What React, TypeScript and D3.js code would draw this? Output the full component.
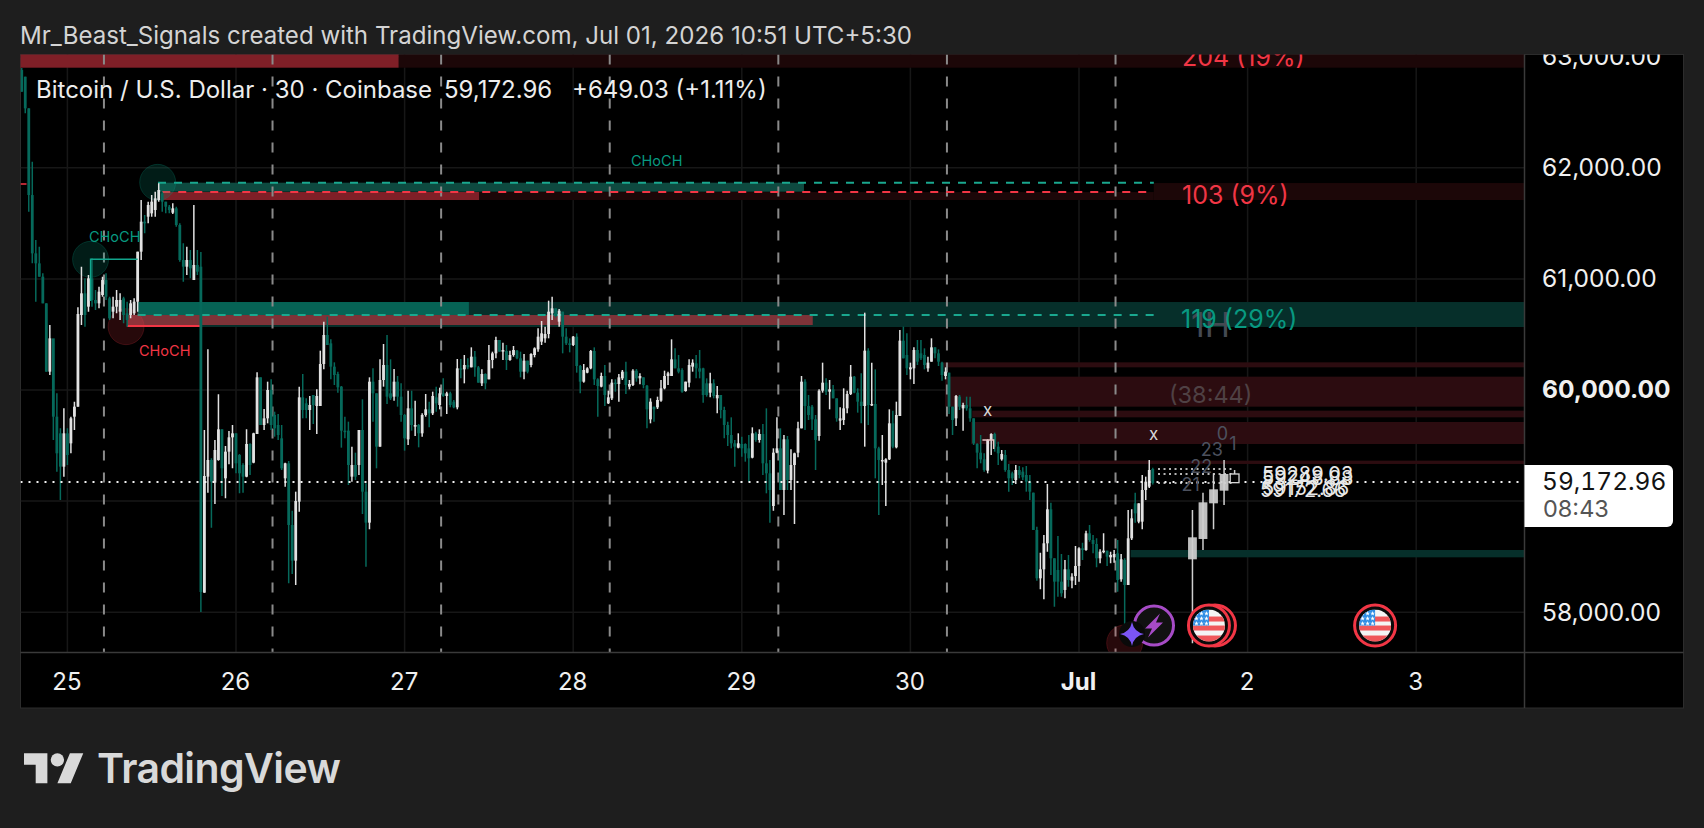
import React, { useEffect, useRef } from 'react';
import * as d3 from 'd3';

type Bar = [number, number, number, number]; // open, high, low, close

const barsJun24: Bar[] = [
  [62880,62898,62685,62685],[62820,62820,62490,62535],[62535,62535,61605,61755],[61755,62055,61140,61230],
  [61230,61350,60795,61140],[61140,61290,61020,61020],[61020,61050,60780,60780],[60780,60780,60165,60165],
  [60165,60585,60135,60465],[60465,60435,59550,59760],[59760,59970,59265,59430],[59610,59655,59010,59310],
  [59310,59835,59220,59610],
];
const barsJun25: Bar[] = [
  [59610,59655,59325,59415],[59520,59760,59430,59745],[59760,59895,59640,59850],[59850,60744,59850,60684],
  [60675,61110,60585,60870],[60870,61005,60570,60675],[60750,61035,60705,61005],[61005,61185,60750,60810],
  [60810,60900,60720,60780],[60780,60930,60735,60885],[60855,61020,60840,60990],[60990,61050,60810,60840],
  [60825,60840,60630,60645],[60705,60840,60645,60750],[60750,60900,60690,60810],[60705,60870,60630,60810],
  [60825,60840,60600,60675],[60690,60795,60570,60630],[60675,60810,60645,60780],[60690,60825,60675,60795],
  [60795,61245,60705,61245],[61245,61710,61170,61515],[61515,61575,61410,61500],[61560,61695,61500,61665],
  [61590,61755,61560,61695],[61620,61785,61560,61725],[61710,61860,61695,61800],[61770,61785,61605,61695],
  [61695,61695,61590,61650],[61650,61665,61590,61620],[61596,61680,61584,61635],[61635,61650,61470,61485],
  [61485,61500,61155,61170],[61170,61320,60975,61110],[61110,61290,61035,61170],[61170,61260,61005,61095],
  [60990,61665,60990,61125],[61125,61260,61035,61065],[61110,61242,58002,58182],[58176,59640,58176,59226],
  [59220,60366,59076,59370],[59370,59385,58761,59175],[59166,59550,58974,59460],[59370,59961,59364,59646],
  [59646,59646,59046,59295],[59205,59496,59025,59445],[59445,59631,59331,59574],[59574,59685,59295,59610],
];
const barsJun26: Bar[] = [
  [59610,59610,59250,59340],[59415,59424,59070,59250],[59325,59340,59076,59220],[59220,59646,59214,59514],
  [59514,59520,59235,59325],[59346,59616,59340,59610],[59604,60159,59604,60114],[60114,60114,59685,59685],
  [59685,59829,59640,59745],[59745,60075,59700,60000],[60000,60096,59640,59685],[59775,59805,59580,59655],
  [59685,59784,59550,59595],[59565,59685,59280,59295],[59205,59346,59130,59340],[59340,59361,58260,58785],
  [58785,58914,58344,58464],[58464,59085,58245,59001],[58995,60030,58905,59934],[59934,60144,59745,59820],
  [59880,59925,59745,59820],[59820,59946,59640,59865],[59955,59955,59694,59865],[59856,60006,59604,59946],
  [59856,60354,59856,60234],[60234,60615,60186,60495],[60495,60660,60405,60405],[60420,60456,60096,60210],
  [60210,60249,60045,60135],[60144,60165,59976,60024],[60030,60036,59481,59634],[59634,59760,59565,59625],
  [59634,59715,59145,59325],[59220,59490,59175,59325],[59325,59436,59190,59220],[59325,59640,59235,59640],
  [59640,59916,58884,59085],[59085,59160,58410,58806],[58806,60114,58746,60075],[60075,60195,59715,59970],
  [59970,59970,59295,59490],[59490,60276,59490,60090],[60090,60414,60030,60225],[60225,60495,59874,59940],
  [59970,60276,59910,59925],[59940,60189,59904,60075],[60075,60126,59850,59940],[59940,60060,59715,59775],
];
const barsJun27: Bar[] = [
  [59775,59784,59454,59565],[59556,59994,59505,59835],[59835,59994,59634,59685],[59670,59904,59586,59685],
  [59685,59694,59484,59610],[59610,59790,59580,59775],[59775,59964,59760,59826],[59826,59895,59664,59790],
  [59790,59985,59775,59946],[59934,60030,59805,59880],[59865,60021,59826,59970],[59970,60105,59940,59946],
  [59946,59985,59784,59970],[59970,59985,59844,59865],[59895,59910,59835,59844],[59844,60279,59826,60195],
  [60195,60279,60105,60186],[60186,60315,60060,60225],[60225,60285,60186,60204],[60204,60384,60204,60300],
  [60300,60351,60120,60204],[60204,60216,60066,60066],[60060,60186,60036,60144],[60144,60150,60006,60060],
  [60096,60405,60096,60270],[60270,60345,60195,60330],[60330,60480,60285,60450],[60450,60450,60345,60345],
  [60345,60426,60270,60360],[60351,60405,60180,60270],[60270,60354,60264,60315],[60315,60396,60300,60360],
  [60354,60360,60276,60285],[60285,60345,60114,60165],[60165,60324,60096,60264],[60264,60264,60150,60165],
  [60225,60330,60204,60324],[60315,60384,60294,60375],[60366,60555,60345,60480],[60435,60621,60405,60510],
  [60465,60570,60426,60504],[60504,60804,60465,60705],[60690,60840,60630,60735],[60735,60735,60654,60666],
  [60615,60729,60570,60714],[60705,60705,60330,60480],[60480,60555,60405,60420],[60420,60465,60339,60405],
];
const barsJun28: Bar[] = [
  [60405,60486,60396,60480],[60480,60510,60156,60216],[60216,60225,59970,60075],[60075,60234,60066,60180],
  [60156,60204,60150,60195],[60195,60360,60186,60351],[60351,60384,60045,60096],[60096,60105,59760,60036],
  [60030,60156,60024,60126],[60126,60225,59856,59955],[59880,59994,59874,59934],[59925,60096,59910,60066],
  [60066,60096,59985,60054],[60054,60144,59895,60114],[60105,60180,60090,60165],[60165,60255,59964,60045],
  [60030,60090,60006,60054],[60045,60186,60036,60174],[60174,60189,60075,60105],[60105,60150,60051,60126],
  [60114,60114,60015,60045],[60039,60045,59655,59826],[59736,59925,59700,59895],[59850,59850,59715,59826],
  [59844,59940,59829,59910],[59904,60090,59895,60015],[60015,60174,60006,60126],[60126,60165,60045,60150],
  [60126,60456,60126,60276],[60276,60375,60195,60195],[60195,60315,60150,60165],[60180,60195,59976,59985],
  [59991,60075,59985,60075],[60066,60276,60024,60225],[60210,60276,60165,60246],[60240,60315,60105,60195],
  [60195,60360,60105,60165],[60195,60201,59886,59955],[60060,60105,59940,59955],[59976,60156,59934,60060],
  [60060,60096,59925,59946],[59925,60036,59790,59955],[59955,59955,59745,59820],[59820,59850,59565,59685],
  [59685,59715,59496,59595],[59595,59754,59475,59520],[59520,59550,59310,59490],[59481,59610,59475,59520],
];
const barsJun29: Bar[] = [
  [59514,59580,59400,59475],[59514,59520,59355,59430],[59475,59595,59175,59385],[59391,59664,59385,59610],
  [59610,59625,59535,59550],[59550,59646,59526,59604],[59604,59694,59235,59340],[59340,59835,59070,59250],
  [59250,59370,58806,59100],[58956,59475,58914,59436],[59436,59754,59430,59475],[59475,59655,59100,59100],
  [59100,59595,58875,59556],[59556,59586,59100,59190],[59190,59466,59100,59325],[59325,59436,58794,59430],
  [59436,59715,59394,59655],[59655,60126,59655,60075],[60075,60096,59640,59856],[59856,59955,59730,59775],
  [59850,59865,59640,59736],[59736,59775,59280,59550],[59586,60006,59544,59994],[59994,60246,59976,60066],
  [60066,60105,59955,59985],[59985,60090,59826,60006],[60006,60045,59925,59925],[59925,59925,59715,59745],
  [59724,59844,59640,59745],[59730,60015,59685,59835],[59835,59994,59790,59964],[59964,60225,59955,60120],
  [60120,60126,59970,59976],[59976,60015,59796,59895],[59895,60150,59700,59856],[59856,60696,59490,60354],
  [60354,60375,59685,59865],[59865,60246,59856,59874],[59874,60186,59205,59475],[59475,59490,58875,59370],
  [59370,59595,59145,59370],[59346,59385,58956,59376],[59376,59826,59370,59700],[59700,59814,59475,59490],
  [59484,59895,59475,59775],[59766,60540,59766,60444],[60444,60570,60285,60285],[60315,60510,60135,60195],
];
const barsJun30: Bar[] = [
  [60186,60246,60096,60204],[60195,60384,60054,60360],[60360,60450,60225,60255],[60330,60450,60270,60285],
  [60315,60375,60186,60225],[60195,60300,60165,60246],[60255,60465,60255,60384],[60384,60384,60285,60330],
  [60330,60366,60216,60255],[60246,60255,60084,60135],[60126,60204,60096,60165],[60156,60156,59784,59850],
  [59850,59850,59595,59730],[59745,59955,59676,59946],[59940,59955,59820,59850],[59835,59886,59634,59865],
  [59865,59940,59814,59835],[59835,59940,59715,59745],[59745,59745,59505,59520],[59514,59520,59295,59436],
  [59436,59595,59340,59376],[59376,59430,59265,59280],[59274,59556,59250,59550],[59550,59610,59415,59604],
  [59604,59616,59445,59490],[59490,59535,59325,59430],[59376,59460,59364,59424],[59415,59460,59265,59280],
  [59280,59334,59085,59205],[59250,59265,59145,59205],[59190,59325,59154,59280],[59280,59316,59205,59235],
  [59265,59304,59190,59214],[59235,59316,59085,59175],[59175,59235,59010,59085],[59076,59076,58740,58740],
  [58740,58770,58284,58305],[58305,58536,58206,58386],[58386,58695,58116,58620],[58620,59154,58545,58926],
  [58926,58986,58335,58485],[58485,58485,58050,58275],[58380,58686,58140,58275],[58275,58524,58140,58170],
  [58200,58470,58125,58386],[58386,58515,58230,58290],[58284,58350,58215,58320],[58326,58596,58245,58416],
];
const barsJul01: Bar[] = [
  [58416,58584,58275,58575],[58575,58626,58470,58560],[58560,58734,58554,58710],[58710,58785,58635,58650],
  [58650,58695,58530,58614],[58614,58665,58404,58485],[58485,58566,58440,58545],[58545,58710,58530,58554],
  [58554,58554,58416,58500],[58494,58545,58440,58515],[58494,58560,58446,58524],[58530,58650,58185,58290],
  [58296,58524,58275,58476],[58470,58485,57723,58245],[58245,58920,58245,58665],[58665,58926,58650,58845],
  [58980,59076,58806,58890],[58815,58980,58800,58980],[58815,59235,58746,59100],[59100,59220,59010,59175],
  [59130,59370,59118,59280],[59289,59300,59150,59163],
];
const firstBarIndex = -13;

// bigger timeframe candles on the right side, last one is still open
const htfBars: Bar[] = [
  [58476,58920,57720,58674],[58659,59076,58560,58989],[58980,59250,58746,59106],[59094,59370,58965,59244],[59166,59280,59166,59244],
];
const htfIndex = [320.3, 323.3, 326.3, 329.3, 332.3];
const htfHours = ['21', '22', '23', '0', '1'];
const htfHourPrices = [59145, 59310, 59466, 59610, 59520];
const htfPriceLevels = [59289, 59244, 59163];
const htfPriceLabels = ['59289.03', '59248.88', '59172.66', '59152.86'];
const htfLabelPrices = [59244, 59208, 59100, 59118];

const priceTicks = [58000, 59000, 60000, 61000, 62000, 63000];
const dayTicks = [0, 48, 96, 144, 192, 240, 288, 336, 384];
const dayLabels = ['25', '26', '27', '28', '29', '30', 'Jul', '2', '3'];
const sessionLines = [10.4, 58.4, 106.4, 154.4, 202.4, 250.4, 298.4];
const lastPrice = 59172.96;

// zones: from bar, to bar (null = right edge), top price, bottom price
type Zone = [number, number | null, number, number];
const redSolidZones: Zone[] = [[-14, 94.3, 63030, 62901], [27, 117.2, 61782, 61710]];
const redPaleZones: Zone[] = [[94.3, null, 63030, 62901], [117.2, 309.3, 61782, 61710], [309.3, null, 61863, 61710]];
const tealZones: Zone[] = [[25.8, 209.7, 61866, 61785]];
const tealDarkZones: Zone[] = [[20, null, 60792, 60567], [302.7, null, 58560, 58494]];
const tealBrightZones: Zone[] = [[20, 114.3, 60792, 60675]];
const redOverTealZones: Zone[] = [[17, 212.2, 60675, 60585]];
const supplyZones: Zone[] = [
  [249.3, null, 60249, 60204], [249.9, null, 60120, 59850], [257.6, null, 59814, 59754],
  [257.3, null, 59712, 59514], [267.9, null, 59364, 59334],
];
const tealDashes: [number, number, number][] = [[25.8, 309.3, 61866], [20, 309.3, 60675]];
const redDashes: [number, number, number][] = [[27, 309.3, 61782]];

const tealCircles: [number, number][] = [[25.7, 61869], [6.6, 61176]];
const redCircles: [number, number][] = [[16.7, 60570], [301, 57723]];
const flagBars = [325, 325, 372.3];

const App: React.FC = () => {
  const svgRef = useRef<SVGSVGElement>(null);

  useEffect(() => {
    if (!svgRef.current) return;
    document.body.style.margin = '0';
    document.body.style.background = '#1e1e1e';

    const width = 1704;
    const height = 828;
    const left = 20.5;
    const top = 54.5;
    const right = 1524.5;
    const bottom = 652.5;
    const outerRight = 1683.5;
    const outerBottom = 708;

    const svg = d3.select(svgRef.current);
    svg.selectAll('*').remove();
    svg.attr('font-family', 'Inter, sans-serif');

    const x = d3.scaleLinear().domain([0, 48]).range([67.4, 236]);
    const y = d3.scaleLinear().domain([58000, 62000]).range([612.2, 167.8]);

    const defs = svg.append('defs');
    defs.append('clipPath').attr('id', 'plot').append('rect')
      .attr('x', left).attr('y', top).attr('width', right - left).attr('height', bottom - top);
    defs.append('clipPath').attr('id', 'axisclip').append('rect')
      .attr('x', right).attr('y', top).attr('width', outerRight - right).attr('height', bottom - top);

    // Background
    svg.append('rect').attr('width', width).attr('height', height).attr('fill', '#1e1e1e');
    svg.append('rect').attr('x', left).attr('y', top).attr('width', outerRight - left).attr('height', outerBottom - top)
      .attr('fill', '#000').attr('stroke', '#2c2c2c');

    // Header
    svg.append('text').attr('x', 20).attr('y', 44).attr('font-size', 24.1).attr('fill', '#d4d4d4')
      .text('Mr_Beast_Signals created with TradingView.com, Jul 01, 2026 10:51 UTC+5:30');

    const plot = svg.append('g').attr('clip-path', 'url(#plot)');

    // Add grid lines
    const grid = plot.append('g').attr('stroke', '#171717').attr('stroke-width', 1.5);
    priceTicks.forEach(p => {
      grid.append('line').attr('x1', left).attr('x2', right).attr('y1', y(p)).attr('y2', y(p));
    });
    dayTicks.forEach(d => {
      grid.append('line').attr('x1', x(d)).attr('x2', x(d)).attr('y1', top).attr('y2', bottom);
    });

    const addZones = (zones: Zone[], fill: string) => {
      zones.forEach(([from, to, hi, lo]) => {
        const x0 = x(from);
        const x1 = to === null ? right : x(to);
        plot.append('rect').attr('x', x0).attr('width', x1 - x0)
          .attr('y', y(hi)).attr('height', y(lo) - y(hi)).attr('fill', fill);
      });
    };

    // Zones
    addZones(redPaleZones, '#1c0708');
    addZones(supplyZones, '#2c0c10');
    addZones(tealDarkZones, '#062f2a');
    addZones(tealZones, '#0e4a40');
    addZones(tealBrightZones, '#066355');
    addZones(redSolidZones, '#7f1f27');
    addZones(redOverTealZones, '#7d3338');

    plot.append('line').attr('x1', x(17)).attr('x2', x(37.8)).attr('y1', y(60576)).attr('y2', y(60576))
      .attr('stroke', '#f23645').attr('stroke-width', 2);

    // Session lines
    sessionLines.forEach(s => {
      plot.append('line').attr('x1', x(s)).attr('x2', x(s)).attr('y1', top).attr('y2', bottom)
        .attr('stroke', '#8a8a8a').attr('stroke-width', 2).attr('stroke-dasharray', '10 12');
    });

    const addDashes = (rows: [number, number, number][], stroke: string) => {
      rows.forEach(([from, to, p]) => {
        plot.append('line').attr('x1', x(from)).attr('x2', x(to)).attr('y1', y(p)).attr('y2', y(p))
          .attr('stroke', stroke).attr('stroke-width', 2).attr('stroke-dasharray', '8 8');
      });
    };
    addDashes(tealDashes, '#1aa88f');
    addDashes(redDashes, '#f23645');

    // Circles
    tealCircles.forEach(([i, p]) => {
      plot.append('circle').attr('cx', x(i)).attr('cy', y(p)).attr('r', 18)
        .attr('fill', '#089981').attr('fill-opacity', 0.18).attr('stroke', '#089981').attr('stroke-opacity', 0.25);
    });
    redCircles.forEach(([i, p]) => {
      plot.append('circle').attr('cx', x(i)).attr('cy', y(p)).attr('r', 18)
        .attr('fill', '#f23645').attr('fill-opacity', 0.16).attr('stroke', '#f23645').attr('stroke-opacity', 0.2);
    });

    // Candles
    const bars = [...barsJun24, ...barsJun25, ...barsJun26, ...barsJun27, ...barsJun28, ...barsJun29, ...barsJun30, ...barsJul01];
    const candleGroup = plot.append('g');
    bars.forEach(([o, h, l, c], k) => {
      const cx = x(firstBarIndex + k);
      const color = c >= o ? '#e2e2e2' : '#06695b';
      candleGroup.append('line').attr('x1', cx).attr('x2', cx).attr('y1', y(h)).attr('y2', y(l))
        .attr('stroke', color).attr('stroke-width', 1.5);
      candleGroup.append('rect').attr('x', cx - 1.4).attr('width', 2.8)
        .attr('y', y(Math.max(o, c))).attr('height', Math.max(1.5, Math.abs(y(o) - y(c))))
        .attr('fill', color);
    });

    // Left red tick
    plot.append('line').attr('x1', left).attr('x2', left + 6).attr('y1', y(61855)).attr('y2', y(61855))
      .attr('stroke', '#f23645').attr('stroke-width', 1.5);

    // CHoCH structure lines
    plot.append('path')
      .attr('d', `M${x(6.6)},${y(60800)}V${y(61176)}H${x(20)}`)
      .attr('fill', 'none').attr('stroke', '#12a58c').attr('stroke-width', 1.5);

    // Last price line
    plot.append('line').attr('x1', left).attr('x2', right).attr('y1', y(lastPrice)).attr('y2', y(lastPrice))
      .attr('stroke', '#f2f2f2').attr('stroke-width', 2).attr('stroke-dasharray', '2 6');

    // Bigger timeframe candles
    htfPriceLevels.forEach(p => {
      plot.append('line').attr('x1', x(310.5)).attr('x2', x(332)).attr('y1', y(p)).attr('y2', y(p))
        .attr('stroke', '#f2f2f2').attr('stroke-width', 1.5).attr('stroke-dasharray', '2 3.5');
    });
    htfBars.forEach(([o, h, l, c], k) => {
      const cx = x(htfIndex[k]);
      const open = k === htfBars.length - 1;
      plot.append('line').attr('x1', cx).attr('x2', cx).attr('y1', y(h)).attr('y2', y(open ? Math.max(o, c) : l))
        .attr('stroke', '#cfcfcf').attr('stroke-width', 1.5);
      plot.append('rect').attr('x', cx - 4.4).attr('width', 8.8)
        .attr('y', y(Math.max(o, c))).attr('height', y(Math.min(o, c)) - y(Math.max(o, c)))
        .attr('fill', open ? '#000' : '#cfcfcf').attr('fill-opacity', open ? 1 : 0.92)
        .attr('stroke', open ? '#d8d8d8' : 'none').attr('stroke-width', 1.3);
    });

    // Hour labels above the bigger candles
    htfHours.forEach((h, k) => {
      plot.append('text').attr('x', x(htfIndex[k] - 0.5)).attr('y', y(htfHourPrices[k]))
        .attr('text-anchor', 'middle').attr('font-size', 18).attr('fill', '#4c515e').attr('dy', '0.35em').text(h);
    });

    // Overlapping price labels
    htfPriceLabels.forEach((t, k) => {
      plot.append('text').attr('x', 1260 + (k === 2 ? 0 : 2)).attr('y', y(htfLabelPrices[k]))
        .attr('dy', '0.35em').attr('font-size', 20).attr('fill', '#e8e8e8').text(t);
    });

    // Zone labels
    const zoneLabel = (t: string, px: number, py: number, size: number, fill: string) => {
      plot.append('text').attr('x', px).attr('y', py).attr('font-size', size).attr('fill', fill).text(t);
    };
    zoneLabel('1H', 1191, 337, 34, '#444952');
    zoneLabel('204 (19%)', 1182, 66, 25, '#f23645');
    zoneLabel('103 (9%)', 1182, 204, 25, '#f23645');
    zoneLabel('119 (29%)', 1181, 328, 25, '#089981');
    zoneLabel('(38:44)', 1169, 403, 23.5, '#4f4144');
    zoneLabel('CHoCH', 89, 242, 14.5, '#089981');
    zoneLabel('CHoCH', 139, 356, 14.5, '#f23645');
    zoneLabel('CHoCH', 631, 166, 14.5, '#089981');
    zoneLabel('x', 983, 416, 17, '#d8d8d8');
    zoneLabel('x', 1149, 440, 17, '#d8d8d8');

    plot.append('path').attr('d', `M${x(260.5)},${y(59550)}H${x(263.7)}V${y(59470)}`)
      .attr('fill', 'none').attr('stroke', '#e8c4c4').attr('stroke-width', 1.5);

    // Legend
    const legend = svg.append('g').attr('font-size', 24).attr('fill', '#ededed');
    legend.append('text').attr('x', 36).attr('y', 98).text('Bitcoin / U.S. Dollar · 30 · Coinbase');
    legend.append('text').attr('x', 444).attr('y', 98).text('59,172.96');
    legend.append('text').attr('x', 572).attr('y', 98).text('+649.03 (+1.11%)');

    // Event icons
    const icons = plot.append('g');
    const flag = (cx: number, cy: number, ringOnly: boolean) => {
      const g = icons.append('g').attr('transform', `translate(${cx},${cy})`);
      g.append('circle').attr('r', 20.5).attr('fill', '#0a0a0a').attr('stroke', '#f23645').attr('stroke-width', 3);
      if (ringOnly) return;
      const id = `flag${Math.round(cx)}`;
      defs.append('clipPath').attr('id', id).append('circle').attr('r', 16);
      const f = g.append('g').attr('clip-path', `url(#${id})`);
      f.append('rect').attr('x', -16).attr('y', -16).attr('width', 32).attr('height', 32).attr('fill', '#f4f4f4');
      [-9, 0, 10].forEach(sy => {
        f.append('rect').attr('x', -16).attr('y', sy).attr('width', 32).attr('height', sy === 10 ? 7 : 5).attr('fill', '#f0565a');
      });
      f.append('rect').attr('x', -16).attr('y', -16).attr('width', 16).attr('height', 16).attr('fill', '#2f8de4');
      const star = d3.symbol(d3.symbolStar, 7)();
      d3.range(3).forEach(r => d3.range(3).forEach(c => {
        f.append('path').attr('d', star).attr('transform', `translate(${-12.5 + c * 5},${-12 + r * 5})`).attr('fill', '#fff');
      }));
    };
    const iconY = y(57880);
    flag(x(flagBars[0]) + 6, iconY, true);
    flag(x(flagBars[1]), iconY, false);
    flag(x(flagBars[2]), iconY, false);

    const bolt = icons.append('g').attr('transform', `translate(1154,${iconY})`);
    bolt.append('circle').attr('r', 19.5).attr('fill', '#111').attr('stroke', '#a64bc6').attr('stroke-width', 3);
    bolt.append('path').attr('d', 'M6 -12 L-9 3 L-2 3 L-6 12 L9 -3 L2 -3 Z').attr('fill', '#a64bc6');
    const spark = icons.append('g').attr('transform', 'translate(1132,634)');
    spark.append('circle').attr('r', 13).attr('fill', '#0a0a0a');
    spark.append('path').attr('d', 'M0 -12 Q2 -2 12 0 Q2 2 0 12 Q-2 2 -12 0 Q-2 -2 0 -12Z').attr('fill', '#7b55f5');

    // Axis lines
    svg.append('line').attr('x1', left).attr('x2', outerRight).attr('y1', bottom).attr('y2', bottom).attr('stroke', '#3a3a3a').attr('stroke-width', 1.5);
    svg.append('line').attr('x1', right).attr('x2', right).attr('y1', top).attr('y2', outerBottom).attr('stroke', '#3a3a3a').attr('stroke-width', 1.5);

    // Add axes
    const yAxis = d3.axisRight(y).tickValues(priceTicks).tickSize(0).tickPadding(0).tickFormat(d => d3.format(',.2f')(d as number));
    const yAxisG = svg.append('g').attr('clip-path', 'url(#axisclip)')
      .append('g').attr('transform', 'translate(1542,0)').call(yAxis as any);
    yAxisG.select('.domain').remove();
    yAxisG.selectAll('text').attr('font-size', 24.5).attr('font-family', 'Inter, sans-serif').attr('fill', '#f0f0f0')
      .attr('font-weight', (d: any) => (d === 60000 ? 700 : 400));

    const xAxis = d3.axisBottom(x).tickValues(dayTicks).tickSize(0).tickPadding(0)
      .tickFormat((d: any) => dayLabels[dayTicks.indexOf(d)]);
    const xAxisG = svg.append('g').attr('transform', 'translate(-1,673)').call(xAxis as any);
    xAxisG.select('.domain').remove();
    xAxisG.selectAll('text').attr('font-size', 24).attr('font-family', 'Inter, sans-serif').attr('fill', '#f0f0f0')
      .attr('font-weight', (d: any) => (dayLabels[dayTicks.indexOf(d)] === 'Jul' ? 700 : 400));

    // Price box
    svg.append('path').attr('d', `M${right},465H1667a6,6 0 0 1 6,6V521a6,6 0 0 1 -6,6H${right}Z`).attr('fill', '#fff');
    svg.append('text').attr('x', 1542).attr('y', 490).attr('font-size', 24.5).attr('fill', '#131313')
      .style('font-variant-numeric', 'tabular-nums').text(d3.format(',.2f')(lastPrice));
    svg.append('text').attr('x', 1543).attr('y', 517).attr('font-size', 23.5).attr('fill', '#555').text('08:43');

    // Footer logo
    const logo = svg.append('g').attr('transform', 'translate(24,746.5) scale(1.67)').attr('fill', '#d9d9d9');
    logo.append('path').attr('d', 'M14 22H7V11H0V4h14v18zM28 22h-8l7.5-18h8L28 22z');
    logo.append('circle').attr('cx', 20).attr('cy', 8).attr('r', 4);
    svg.append('text').attr('x', 97).attr('y', 783).attr('font-size', 41).attr('font-weight', 600).attr('fill', '#d9d9d9')
      .attr('letter-spacing', -0.6).text('TradingView');
  }, []);

  return (
    <svg
      ref={svgRef}
      width={1704}
      height={828}
      style={{ position: 'absolute', left: 0, top: 0, display: 'block' }}
    />
  );
};

export default App;
